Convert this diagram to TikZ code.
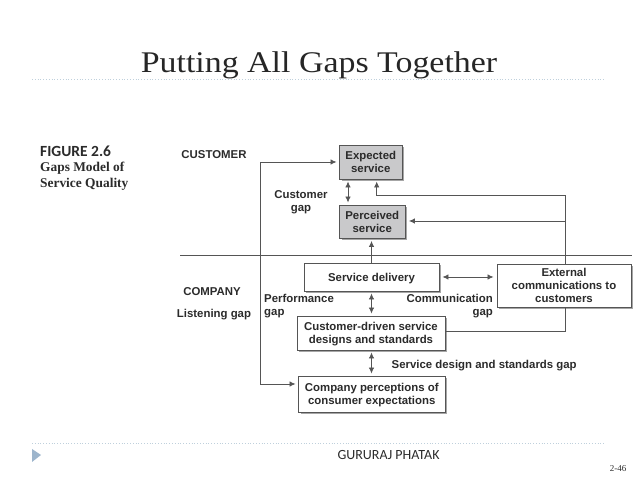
\documentclass[tikz,border=0pt]{standalone}
\usepackage{fontspec}
\setmainfont{Liberation Sans}
\newfontfamily\titlefont[FakeStretch=1.13]{Liberation Serif}
\newfontfamily\capfont{Liberation Serif}
\newfontfamily\footfont{Carlito}
\usetikzlibrary{shadows,arrows.meta}
\definecolor{inkgray}{HTML}{2B2B2B}
\definecolor{linegray}{HTML}{555555}
\definecolor{fillgray}{HTML}{C9C9CB}
\definecolor{dotblue}{HTML}{BFD0DC}
\definecolor{markblue}{HTML}{9DB5CC}

\begin{document}
\begin{tikzpicture} [x=1pt, y=-1pt]
    \tikzstyle{every node} = [align=center, text=inkgray, font=\bfseries\fontsize{11.4}{13}\selectfont]
    \tikzstyle{gapbox} = [draw=linegray, line width=0.9pt, fill=white, inner sep=0pt, text depth=0pt, drop shadow={shadow xshift=2pt, shadow yshift=-2pt, fill=black!35, opacity=1}]
    \tikzstyle{custbox} = [gapbox, fill=fillgray]
    \tikzstyle{plain} = [inner sep=0pt]
    \tikzstyle{wire} = [draw=linegray, line width=0.8pt]
    \tikzstyle{flow} = [wire, shorten >=2.5pt, -{Latex[length=6pt,width=5.5pt]}]
    \tikzstyle{gaparrow} = [wire, shorten >=2pt, shorten <=2pt, {Latex[length=6pt,width=5.5pt]}-{Latex[length=6pt,width=5.5pt]}]
    \tikzstyle{slideline} = [draw=dotblue, line width=0.8pt, dotted]
    \useasboundingbox (0,0) rectangle (638,478);

    % slide frame
    \node (title) at (319,62) [font=\titlefont\fontsize{30}{32}\selectfont, text=black!85, yshift=-3pt] {Putting All Gaps Together};
    \coordinate (topl) at (32,79.5);
    \coordinate (topr) at (605,79.5);
    \coordinate (botl) at (32,443);
    \coordinate (botr) at (605,443);
    \draw [slideline] (topl) -- (topr);
    \draw [slideline] (botl) -- (botr);
    \fill [markblue] (32,449) -- (41,455) -- (32,462) -- cycle;
    \node (author) at (388.5,455) [font=\footfont\fontsize{14}{16}\selectfont] {GURURAJ PHATAK};
    \node (page) at (618,469) [font=\capfont\fontsize{9}{10}\selectfont] {2-46};

    % caption
    \node (figure) at (40,151) [plain, anchor=west, font=\footfont\bfseries\fontsize{15.5}{17}\selectfont] {FIGURE 2.6};
    \node (caption) at (40,176) [plain, anchor=west, align=left, font=\capfont\bfseries\fontsize{13.4}{16}\selectfont] {Gaps Model of \\ Service Quality};

    % boxes
    \node (expected) at (370.75,162) [custbox, minimum width=62.5pt, minimum height=34pt] {Expected \\ service};
    \node (perceived) at (372.25,221.5) [custbox, minimum width=65.5pt, minimum height=33pt] {Perceived \\ service};
    \node (delivery) at (371.5,277) [gapbox, minimum width=135pt, minimum height=28pt, text height=10pt] {Service delivery};
    \node (designs) at (371,333) [gapbox, minimum width=148pt, minimum height=34pt] {Customer-driven service \\ designs and standards};
    \node (perceptions) at (371.75,394) [gapbox, minimum width=146.5pt, minimum height=36pt] {Company perceptions of \\ consumer expectations};
    \node (external) at (564,285.5) [gapbox, minimum width=134pt, minimum height=43pt] {External \\ communications to \\ customers};

    % labels
    \node (customer) at (214,155) {CUSTOMER};
    \node (company) at (212,292) {COMPANY};
    \node (listening) at (214,315) {Listening gap};
    \node (custgap) at (301,202.5) {Customer \\ gap};
    \node (perfgap) at (264,306.5) [plain, anchor=west, align=left] {Performance \\ gap};
    \node (commgap) at (493,306.5) [plain, anchor=east, align=right] {Communication \\ gap};
    \node (designgap) at (391.5,366) [plain, anchor=west] {Service design and standards gap};

    % divider and connectors
    \coordinate (divl) at (180,255.5);
    \coordinate (divr) at (632,255.5);
    \coordinate (listen) at (260,384);
    \coordinate (promise) at (565,221);
    \draw [wire] (divl) -- (divr);
    \draw [flow] (listen) -- (perceptions.west |- listen);
    \draw [flow] (listen) -- (260,162) -- (expected.west);
    \draw [flow] (external.north -| promise) -- (565,195) -- (376.7,195) -- (376.7,179);
    \draw [flow, shorten >=3.5pt] (promise) -- (perceived.east |- promise);
    \draw [wire] (external.south -| promise) -- (565,331) -- (designs.east |- 0,331);
    \draw [flow] (delivery.north) -- (perceived.south -| delivery.north);
    \draw [gaparrow] (expected.south -| 348,0) -- (perceived.north -| 348,0);
    \draw [gaparrow] (delivery.south) -- (designs.north -| delivery.south);
    \draw [gaparrow] (designs.south -| delivery.south) -- (perceptions.north -| delivery.south);
    \draw [gaparrow, shorten >=3pt, shorten <=3pt] (delivery.east) -- (external.west |- delivery.east);
\end{tikzpicture}
\end{document}
